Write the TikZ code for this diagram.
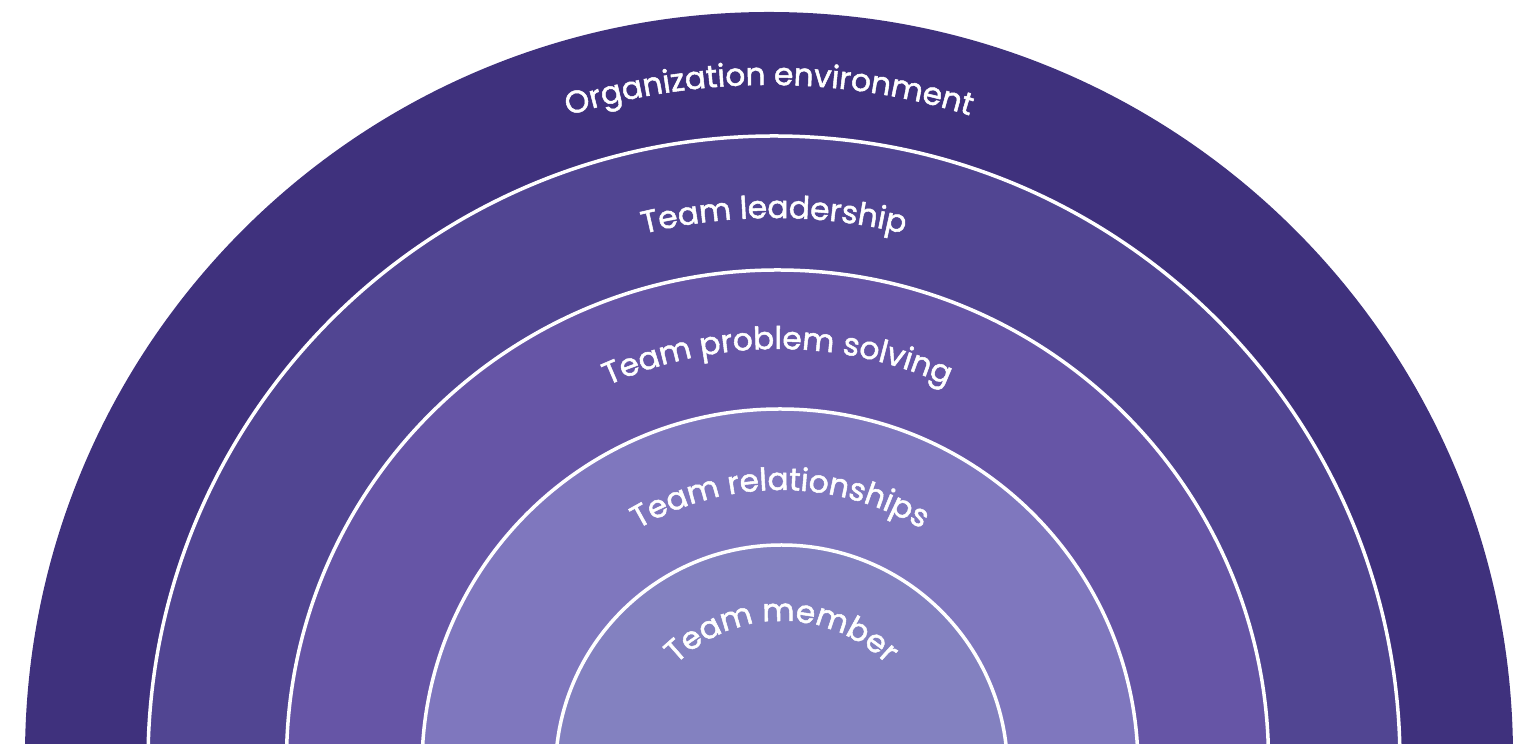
\documentclass[tikz,border=0pt]{standalone}
\usepackage{fontspec}
\setmainfont{Poppins}
\newfontfamily\lblfam{Poppins}[FakeBold=1.6]
\usetikzlibrary{decorations.text}
\definecolor{ringA}{HTML}{3F317D}
\definecolor{ringB}{HTML}{514592}
\definecolor{ringC}{HTML}{6655A6}
\definecolor{ringD}{HTML}{7F77BE}
\definecolor{ringE}{HTML}{8381C0}
\newcommand\lblfont{\lblfam\fontsize{15.6}{18}\selectfont}
\begin{document}
\begin{tikzpicture}[x=0.5pt,y=0.5pt,
  ring/.style={draw=white, line width=1.75pt},
  lbl/.style={decorate, decoration={text along path, text align=center, text color=white}}]
\useasboundingbox (0,0) rectangle (1536,753);
\coordinate (cA) at (769,-3);
\coordinate (cB) at (774,-9);
\coordinate (cC) at (777.5,-8);
\coordinate (cD) at (780,-14);
\coordinate (cE) at (781.5,-18);
\begin{scope}
\clip (0,9) rectangle (1536,753);
\fill[ringA] (cA) circle[radius=744];
\fill[ringB, ring] (cB) circle[radius=626];
\fill[ringC, ring] (cC) circle[radius=491];
\fill[ringD, ring] (cD) circle[radius=358];
\fill[ringE, ring] (cE) circle[radius=226];
\end{scope}
\path[lbl, decoration={text={|\lblfont|Organization environment}}]
  ([shift={(180:671)}]cA) arc[start angle=180, end angle=0, radius=671];
\path[lbl, decoration={text={|\lblfont|Team leadership}}]
  ([shift={(180:544)}]cB) arc[start angle=180, end angle=0, radius=544];
\path[lbl, decoration={text={|\lblfont|Team problem solving}}]
  ([shift={(180:412)}]cC) arc[start angle=180, end angle=0, radius=412];
\path[lbl, decoration={text={|\lblfont|Team relationships}}]
  ([shift={(180:277)}]cD) arc[start angle=180, end angle=0, radius=277];
\path[lbl, decoration={text={|\lblfont|Team member}}]
  ([shift={(180:150)}]cE) arc[start angle=180, end angle=0, radius=150];
\end{tikzpicture}
\end{document}
